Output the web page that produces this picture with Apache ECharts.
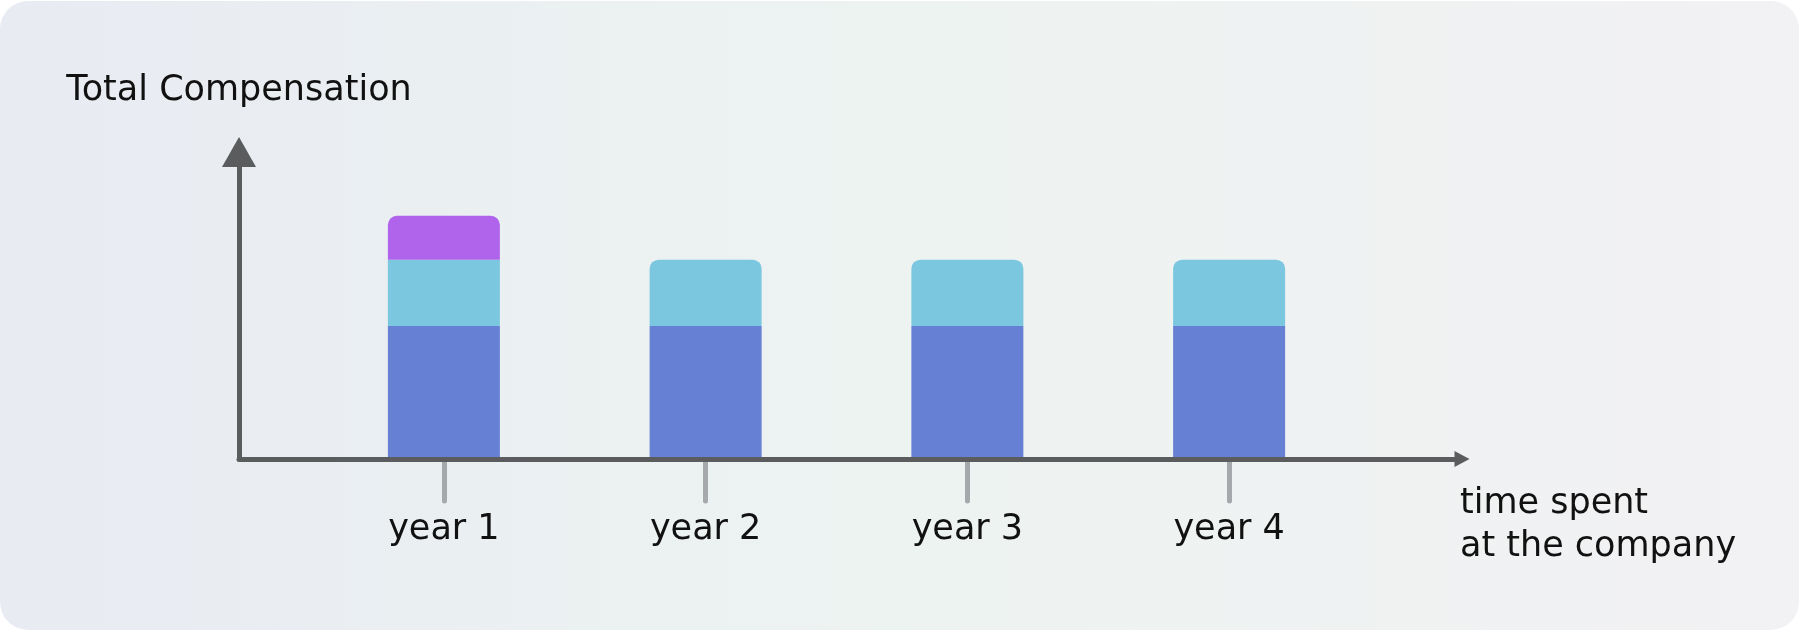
<!DOCTYPE html>
<html>
<head>
<meta charset="utf-8">
<script src="https://cdn.jsdelivr.net/npm/echarts@6/dist/echarts.min.js"></script>
<style>
  html, body { margin: 0; padding: 0; background: #ffffff; }
  #chart { width: 1800px; height: 630px; }
</style>
</head>
<body>
<div id="chart"></div>
<script>
// ---- data ----
var categories = ['year 1', 'year 2', 'year 3', 'year 4'];
var baseSalary = [100, 100, 100, 100];
var equity = [50, 50, 50, 50];
var signOnBonus = [33, 0, 0, 0];
var yAxisTitle = 'Total Compensation';
var xAxisTitle = 'time spent\nat the company';

var FONT = 'DejaVu Sans';
var chart = echarts.init(document.getElementById('chart'), null, { renderer: 'canvas' });

var topRadius = [9, 9, 0, 0];
function equityItems() {
  return equity.map(function (v, i) {
    var hasTop = signOnBonus[i] > 0;
    return { value: v, itemStyle: { borderRadius: hasTop ? 0 : topRadius } };
  });
}
function bonusItems() {
  return signOnBonus.map(function (v) {
    return v > 0 ? { value: v, itemStyle: { borderRadius: topRadius } } : '-';
  });
}

var option = {
  animation: false,
  graphic: [{
    type: 'rect',
    z: -10,
    silent: true,
    shape: { x: 0, y: 1, width: 1799, height: 629, r: 28 },
    style: {
      fill: new echarts.graphic.LinearGradient(0, 0, 1, 0, [
        { offset: 0, color: '#e8ebf2' },
        { offset: 0.5, color: '#edf3f1' },
        { offset: 1, color: '#f2f1f3' }
      ])
    }
  }],
  grid: [
    { left: 313, right: 440, top: 140, bottom: 171 },
    { left: 239, right: 338, top: 152, bottom: 171 }
  ],
  xAxis: [
    {
      type: 'category',
      gridIndex: 0,
      data: categories,
      axisLine: { show: false },
      axisTick: {
        show: true,
        alignWithLabel: true,
        length: 42,
        lineStyle: { color: '#a6a9ab', width: 5, cap: 'round' }
      },
      axisLabel: {
        margin: 53,
        color: '#111111',
        fontFamily: FONT,
        fontSize: 35
      },
      splitLine: { show: false }
    },
    {
      type: 'value',
      gridIndex: 1,
      min: 0, max: 1,
      position: 'bottom',
      z: 5,
      axisLine: {
        show: true,
        onZero: false,
        symbol: ['none', 'triangle'],
        symbolSize: [16, 15],
        lineStyle: { color: '#5b5c5e', width: 5, cap: 'round' }
      },
      axisTick: { show: false },
      axisLabel: { show: false },
      splitLine: { show: false },
      name: xAxisTitle,
      nameLocation: 'end',
      nameGap: -2,
      nameTextStyle: {
        color: '#111111',
        fontFamily: FONT,
        fontSize: 35,
        lineHeight: 43,
        align: 'left',
        verticalAlign: 'top',
        padding: [23, 0, 0, 0]
      }
    }
  ],
  yAxis: [
    {
      type: 'value',
      gridIndex: 0,
      min: 0, max: 240,
      show: false,
      splitLine: { show: false }
    },
    {
      type: 'value',
      gridIndex: 1,
      min: 0, max: 1,
      position: 'left',
      z: 5,
      axisLine: {
        show: true,
        onZero: false,
        symbol: ['none', 'triangle'],
        symbolSize: [34, 30],
        lineStyle: { color: '#5b5c5e', width: 5, cap: 'round' }
      },
      axisTick: { show: false },
      axisLabel: { show: false },
      splitLine: { show: false },
      name: yAxisTitle,
      nameLocation: 'end',
      nameGap: 44,
      nameTextStyle: {
        color: '#111111',
        fontFamily: FONT,
        fontSize: 35,
        lineHeight: 35,
        align: 'center',
        verticalAlign: 'bottom'
      }
    }
  ],
  series: [
    {
      name: 'base',
      type: 'bar',
      stack: 'total',
      xAxisIndex: 0, yAxisIndex: 0,
      barWidth: 112,
      z: 2,
      itemStyle: { color: '#6681d3' },
      data: baseSalary
    },
    {
      name: 'equity',
      type: 'bar',
      stack: 'total',
      xAxisIndex: 0, yAxisIndex: 0,
      barWidth: 112,
      z: 2,
      itemStyle: { color: '#7bc7df' },
      data: equityItems()
    },
    {
      name: 'bonus',
      type: 'bar',
      stack: 'total',
      xAxisIndex: 0, yAxisIndex: 0,
      barWidth: 112,
      z: 2,
      itemStyle: { color: '#b064eb' },
      data: bonusItems()
    }
  ]
};
chart.setOption(option);
</script>
</body>
</html>
